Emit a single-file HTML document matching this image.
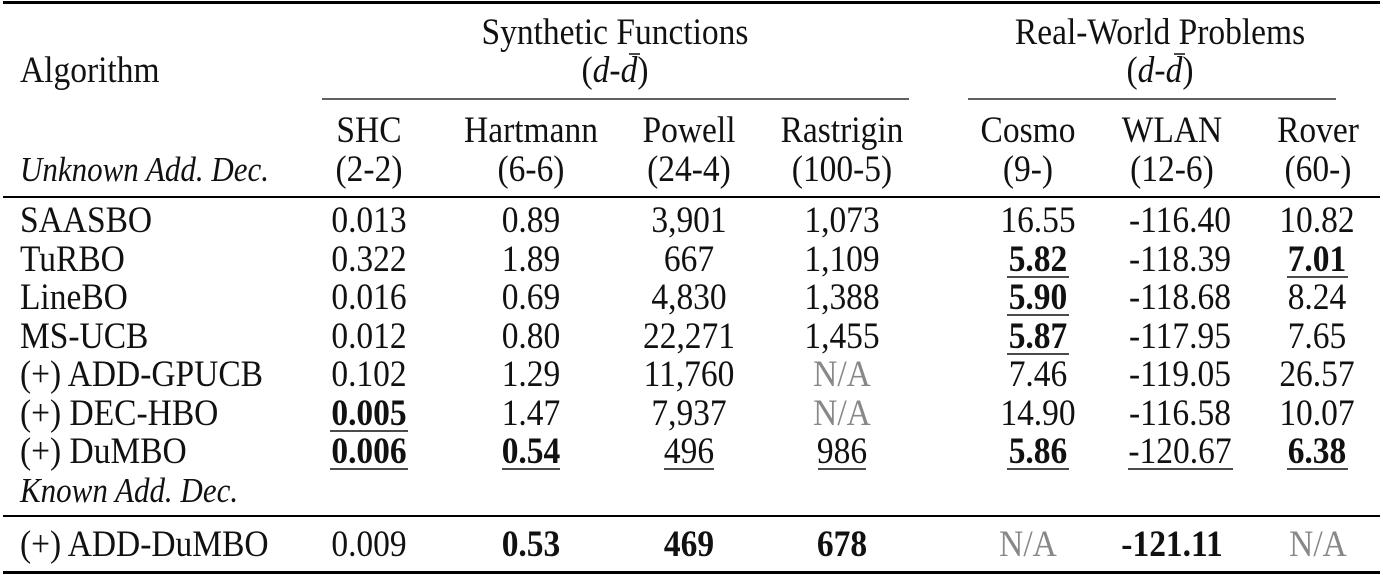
<!DOCTYPE html>
<html><head><meta charset="utf-8"><style>
body{margin:0;background:#fff;}
svg{display:block;}
text{font-family:"Liberation Serif",serif;font-size:33.5px;fill:#111;}
.b{font-weight:bold;}
.g{fill:#888;}
.i{font-style:italic;}
.it{font-style:italic;font-size:31px;}
</style></head><body>
<svg width="1383" height="575" viewBox="0 0 1383 575">
<rect x="3" y="1" width="1377" height="3" fill="#000"/>
<line x1="322" y1="99" x2="909" y2="99" stroke="#000" stroke-width="1.3"/>
<line x1="968" y1="99" x2="1336" y2="99" stroke="#000" stroke-width="1.3"/>
<rect x="3" y="196" width="1377" height="2" fill="#000"/>
<rect x="3" y="515" width="1377" height="2" fill="#000"/>
<rect x="3" y="571" width="1377" height="3" fill="#000"/>
<line x1="629" y1="54" x2="640" y2="54" stroke="#111" stroke-width="1.5"/>
<line x1="1174" y1="54" x2="1185" y2="54" stroke="#111" stroke-width="1.5"/>

<g transform="scale(1,1.12)">
<text x="20" y="73.21">Algorithm</text>
<text x="20" y="161.61" class="it">Unknown Add. Dec.</text>
<text x="615" y="39.29" text-anchor="middle">Synthetic Functions</text>
<text x="615" y="73.21" text-anchor="middle">(<tspan class="i">d</tspan>-<tspan class="i">d</tspan>)</text>
<text x="1160" y="39.29" text-anchor="middle">Real-World Problems</text>
<text x="1160" y="73.21" text-anchor="middle">(<tspan class="i">d</tspan>-<tspan class="i">d</tspan>)</text>

<g text-anchor="middle">
<text x="369" y="126.79">SHC</text><text x="369" y="161.61">(2-2)</text>
<text x="531" y="126.79">Hartmann</text><text x="531" y="161.61">(6-6)</text>
<text x="689" y="126.79">Powell</text><text x="689" y="161.61">(24-4)</text>
<text x="842" y="126.79">Rastrigin</text><text x="842" y="161.61">(100-5)</text>
<text x="1028" y="126.79">Cosmo</text><text x="1028" y="161.61">(9-)</text>
<text x="1172" y="126.79">WLAN</text><text x="1172" y="161.61">(12-6)</text>
<text x="1318" y="126.79">Rover</text><text x="1318" y="161.61">(60-)</text>
</g>

<g>
<text x="20" y="207.14">SAASBO</text>
<text x="20" y="241.96">TuRBO</text>
<text x="20" y="275.89">LineBO</text>
<text x="20" y="310.71">MS-UCB</text>
<text x="20" y="344.64">(+) ADD-GPUCB</text>
<text x="20" y="379.46">(+) DEC-HBO</text>
<text x="20" y="413.39">(+) DuMBO</text>
<text x="20" y="448.21" class="it">Known Add. Dec.</text>
<text x="20" y="496.43">(+) ADD-DuMBO</text>
</g>

<g text-anchor="middle">
<text x="369" y="207.14">0.013</text><text x="531" y="207.14">0.89</text><text x="689" y="207.14">3,901</text><text x="842" y="207.14">1,073</text><text x="1038" y="207.14">16.55</text><text x="1180" y="207.14">-116.40</text><text x="1317" y="207.14">10.82</text>
<text x="369" y="241.96">0.322</text><text x="531" y="241.96">1.89</text><text x="689" y="241.96">667</text><text x="842" y="241.96">1,109</text><text x="1038" y="241.96" class="b">5.82</text><text x="1180" y="241.96">-118.39</text><text x="1317" y="241.96" class="b">7.01</text>
<text x="369" y="275.89">0.016</text><text x="531" y="275.89">0.69</text><text x="689" y="275.89">4,830</text><text x="842" y="275.89">1,388</text><text x="1038" y="275.89" class="b">5.90</text><text x="1180" y="275.89">-118.68</text><text x="1317" y="275.89">8.24</text>
<text x="369" y="310.71">0.012</text><text x="531" y="310.71">0.80</text><text x="689" y="310.71">22,271</text><text x="842" y="310.71">1,455</text><text x="1038" y="310.71" class="b">5.87</text><text x="1180" y="310.71">-117.95</text><text x="1317" y="310.71">7.65</text>
<text x="369" y="344.64">0.102</text><text x="531" y="344.64">1.29</text><text x="689" y="344.64">11,760</text><text x="842" y="344.64" class="g">N/A</text><text x="1038" y="344.64">7.46</text><text x="1180" y="344.64">-119.05</text><text x="1317" y="344.64">26.57</text>
<text x="369" y="379.46" class="b">0.005</text><text x="531" y="379.46">1.47</text><text x="689" y="379.46">7,937</text><text x="842" y="379.46" class="g">N/A</text><text x="1038" y="379.46">14.90</text><text x="1180" y="379.46">-116.58</text><text x="1317" y="379.46">10.07</text>
<text x="369" y="413.39" class="b">0.006</text><text x="531" y="413.39" class="b">0.54</text><text x="689" y="413.39">496</text><text x="842" y="413.39">986</text><text x="1038" y="413.39" class="b">5.86</text><text x="1180" y="413.39">-120.67</text><text x="1317" y="413.39" class="b">6.38</text>
<text x="369" y="496.43">0.009</text><text x="531" y="496.43" class="b">0.53</text><text x="689" y="496.43" class="b">469</text><text x="842" y="496.43" class="b">678</text><text x="1028" y="496.43" class="g">N/A</text><text x="1172" y="496.43" class="b">-121.11</text><text x="1318" y="496.43" class="g">N/A</text>
</g>
</g>

<g stroke="#111" stroke-width="1.5">
<line x1="1007" y1="277" x2="1069" y2="277"/><line x1="1287" y1="277" x2="1348" y2="277"/>
<line x1="1007" y1="315" x2="1069" y2="315"/>
<line x1="1007" y1="354" x2="1069" y2="354"/>
<line x1="330" y1="431" x2="408" y2="431"/>
<line x1="330" y1="469" x2="408" y2="469"/><line x1="502" y1="469" x2="560" y2="469"/>
<line x1="664" y1="469" x2="714" y2="469"/><line x1="818" y1="469" x2="866" y2="469"/>
<line x1="1007" y1="469" x2="1069" y2="469"/><line x1="1128" y1="469" x2="1233" y2="469"/><line x1="1287" y1="469" x2="1348" y2="469"/>
</g>
</svg>
</body></html>
